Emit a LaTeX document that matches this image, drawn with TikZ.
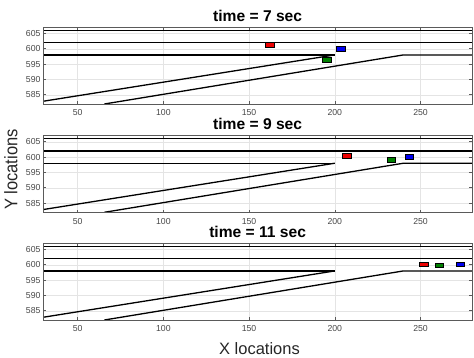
\documentclass[tikz,border=0pt]{standalone}
\usepackage{fontspec}
\setmainfont{Liberation Sans}
\definecolor{axgray}{RGB}{38,38,38}
\definecolor{boxgray}{RGB}{90,90,90}
\definecolor{gridgray}{RGB}{228,228,228}
\definecolor{vred}{RGB}{235,0,0}
\definecolor{vgreen}{RGB}{0,128,0}
\definecolor{vblue}{RGB}{0,0,240}
\tikzset{
  road/.style={line width=1.3pt, black},
  gridline/.style={gridgray, line width=0.5pt},
  axbox/.style={boxgray, line width=0.6pt},
  veh/.style={draw=black, line width=0.5pt},
  ticklab/.style={font=\fontsize{8.7}{9}\selectfont, text=axgray!85, inner sep=0pt},
  titlelab/.style={font=\fontsize{15.6}{18}\selectfont\bfseries, inner sep=0pt},
  axlab/.style={font=\fontsize{16.5}{18}\selectfont, text=axgray, inner sep=0pt},
}
% #1 bottom y, #2 title, #3 red, #4 green, #5 blue, #6 name prefix
\newcommand{\carpanel}[6]{%
\begin{scope}[xshift=43.3pt, yshift=#1pt, x=1.7148pt, y=3.067pt, shift={(-30,-582)}]
  \foreach \gx in {50,100,...,250} \draw[gridline] (\gx,582) -- (\gx,607);
  \foreach \gy in {585,590,...,605} \draw[gridline] (30,\gy) -- (280,\gy);
  \begin{scope}
    \clip (30,582) rectangle (280,607);
    \draw[road] (30,606) -- (280,606);
    \draw[road] (30,602) -- (280,602);
    \draw[road] (30,598) -- (200,598);
    \draw[road] (30,582.9) -- (200,598);
    \draw[road] (65.6,582) -- (240,598) -- (280,598);
  \end{scope}
  \filldraw[veh, fill=vred]   (#3) ++(-2.5,-0.75) rectangle ++(5,1.5);
  \filldraw[veh, fill=vgreen] (#4) ++(-2.5,-0.75) rectangle ++(5,1.5);
  \filldraw[veh, fill=vblue]  (#5) ++(-2.5,-0.75) rectangle ++(5,1.5);
  \draw[axbox] (30,582) rectangle (280,607);
  \foreach \gx in {50,100,...,250} {
    \draw[axbox] (\gx,582) -- ++(0,0.9);
    \draw[axbox] (\gx,607) -- ++(0,-0.9);
    \node[ticklab, anchor=north, yshift=-5.7pt] (#6x\gx) at (\gx,582) {\gx};
  }
  \foreach \gy in {585,590,...,605} {
    \draw[axbox] (30,\gy) -- ++(1.6,0);
    \draw[axbox] (280,\gy) -- ++(-1.6,0);
    \node[ticklab, anchor=east, xshift=-2.6pt] (#6y\gy) at (30,\gy) {\gy};
  }
  \node[titlelab, anchor=base, yshift=6.3pt] (#6title) at (155,607) {#2};
\end{scope}}
\begin{document}
\begin{tikzpicture}[x=1pt, y=1pt]
  \useasboundingbox (0,0) rectangle (474,358);
  \carpanel{254}{time = 7 sec}{162,601.4}{195.3,596.5}{203.4,600.1}{a}
  \carpanel{145.7}{time = 9 sec}{206.9,600.5}{233.0,599.15}{243.3,600.15}{b}
  \carpanel{38}{time = 11 sec}{252,600.2}{260.8,599.8}{273.2,600.2}{c}
  \node[axlab, anchor=base] (xl) at (259.5,3.7) {X locations};
  \node[axlab, rotate=90, anchor=base, yscale=1.1] (yl) at (17.3,188.5) {Y locations};
\end{tikzpicture}
\end{document}
